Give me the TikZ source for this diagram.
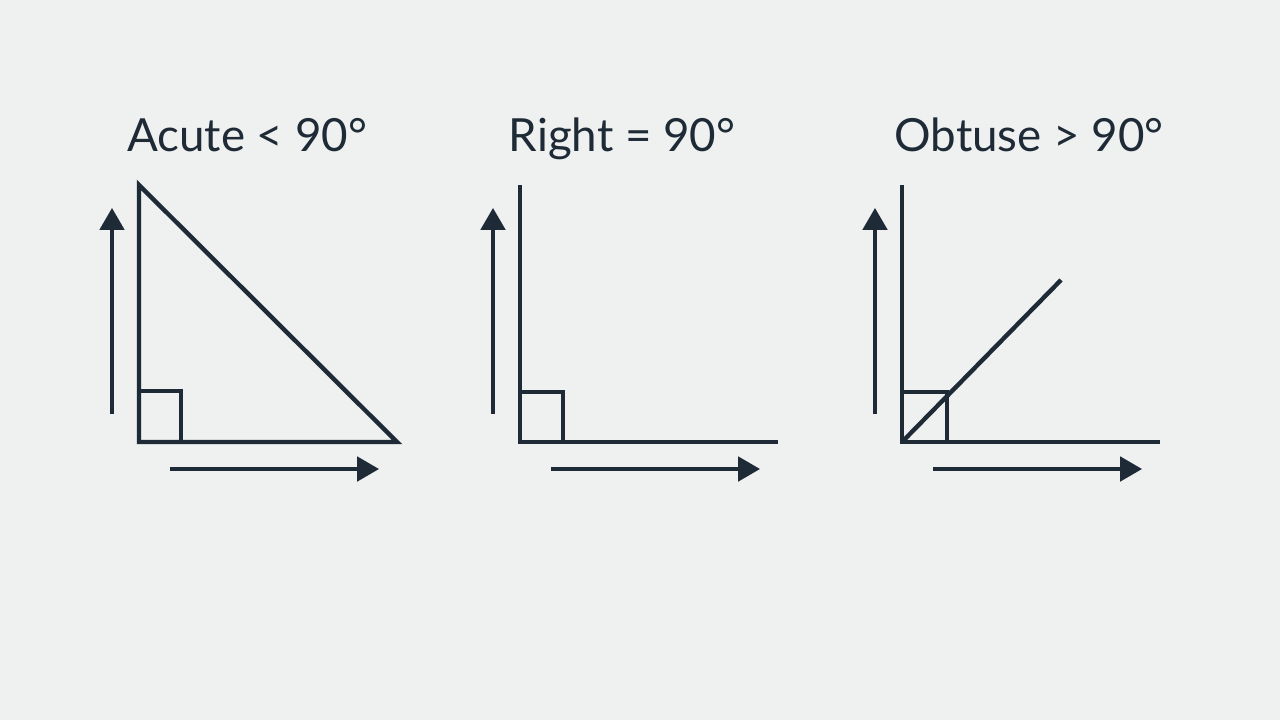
\documentclass[tikz,border=0pt]{standalone}
\usepackage{fontspec}
\setmainfont{Lato}
\usetikzlibrary{arrows.meta,positioning}
\definecolor{ink}{HTML}{1E2B36}
\definecolor{paper}{HTML}{EFF0F0}

\begin{document}
\begin{tikzpicture}[
    x = 0.02cm, y = -0.02cm, % one unit = one pixel of the reference
    leg/.style = {draw = ink, line width = 2.5pt, line join = miter},
    sqbox/.style = {draw = ink, line width = 1.8pt},
    dirarrow/.style = {draw = ink, line width = 1.9pt,
        -{Triangle[length = 12.5pt, width = 14pt]}},
    title/.style = {text = ink, font = \fontsize{26}{30}\selectfont, anchor = base}
    ]

    \fill[paper] (0,0) rectangle (1280,720);
    \useasboundingbox (0,0) rectangle (1280,720);

    % one panel per angle kind
    \foreach \n/\x in {a/139, r/520, o/902} {
        \coordinate (top-\n) at (\x,185);
        \coordinate (vtx-\n) at (\x,442);
        \coordinate (end-\n) at (\x+258,442);
        \coordinate (upA-\n) at (\x-27,414);
        \coordinate (upB-\n) at (\x-27,208);
        \coordinate (rtA-\n) at (\x+31,469);
        \coordinate (rtB-\n) at (\x+240,469);
        \draw[dirarrow] (upA-\n) -- (upB-\n);
        \draw[dirarrow] (rtA-\n) -- (rtB-\n);
    }
    \coordinate (ray-o) at (1061,280);

    \draw[sqbox] (vtx-a) rectangle ++(42,-51);
    \draw[sqbox] (vtx-r) rectangle ++(43,-50);
    \draw[sqbox] (vtx-o) rectangle ++(45,-50);

    \draw[leg] (top-a) -- (vtx-a) -- (end-a) -- cycle;
    \draw[leg] (top-r) -- (vtx-r) -- (end-r);
    \draw[leg] (top-o) -- (vtx-o) -- (end-o);
    \draw[leg] (vtx-o) -- (ray-o);

    \node[title] (title-a) at (247,151) {Acute < 90°};
    \node[title] (title-r) at (622,151) {Right = 90°};
    \node[title] (title-o) at (1029,151) {Obtuse > 90°};
\end{tikzpicture}
\end{document}
